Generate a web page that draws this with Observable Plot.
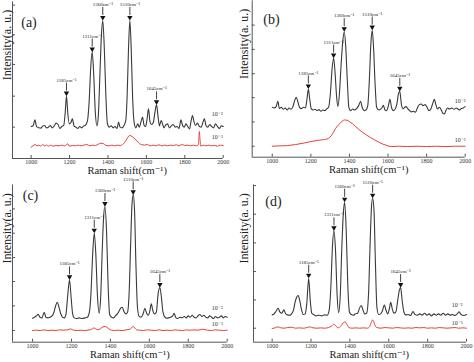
<!DOCTYPE html>
<html><head><meta charset="utf-8">
<script src="https://cdn.jsdelivr.net/npm/d3@7"></script>
<script src="https://cdn.jsdelivr.net/npm/@observablehq/plot@0.6"></script>
<style>
body{margin:0;background:#fff;}
#fig{position:relative;width:474px;height:362px;overflow:hidden;background:#fff;}
#fig svg{position:absolute;overflow:visible;}
</style></head><body><div id="fig"></div>
<script>
const xTicks = [1000,1200,1400,1600,1800,2000];
const peakNames = ["1185cm⁻¹","1311cm⁻¹","1360cm⁻¹","1510cm⁻¹","1645cm⁻¹"];
const panelLetters = ["(a)","(b)","(c)","(d)"];
const seriesNames = ["10⁻²","10⁻³"];
const xTitle = "Raman shift(cm⁻¹)";
const yTitle = "Intensity(a. u.)";

// ---- panel (a)
const blackA = [[1000,96],[1010,98],[1020,116],[1028,96],[1040,92],[1050,91],[1060,97],[1070,99],[1080,92],[1090,94],[1100,99],[1110,92],[1120,98],[1130,106],[1140,102],[1150,90],[1160,96],[1170,100],[1177,135],[1184,187],[1191,135],[1199,104],[1207,108],[1215,119],[1223,98],[1233,94],[1243,90],[1253,96],[1263,92],[1273,97],[1283,100],[1293,112],[1302,170],[1310,270],[1318,319],[1326,250],[1334,140],[1343,98],[1350,130],[1358,250],[1366,370],[1373,414],[1381,330],[1389,190],[1397,105],[1407,94],[1417,98],[1427,92],[1437,96],[1447,90],[1455,109],[1463,94],[1473,92],[1483,98],[1493,115],[1500,190],[1507,330],[1514,414],[1521,330],[1528,190],[1536,110],[1545,92],[1555,104],[1563,94],[1572,110],[1580,124],[1588,100],[1596,96],[1604,120],[1611,149],[1619,110],[1627,102],[1636,108],[1645,140],[1653,161],[1661,125],[1668,98],[1677,114],[1684,104],[1692,92],[1700,100],[1710,104],[1720,92],[1730,98],[1740,102],[1750,94],[1760,96],[1770,90],[1780,116],[1788,100],[1797,94],[1806,104],[1815,96],[1825,89],[1832,110],[1840,129],[1848,110],[1856,99],[1866,106],[1876,96],[1886,94],[1895,110],[1902,119],[1910,100],[1920,94],[1930,102],[1940,96],[1950,92],[1960,104],[1970,96],[1980,90],[1990,98],[2000,96]];
const redA = [[1000,34],[1010,38],[1020,42],[1030,38],[1040,40],[1050,37],[1060,42],[1070,38],[1080,40],[1090,37],[1100,40],[1115,37],[1130,39],[1145,38],[1160,40],[1175,38],[1190,44],[1200,37],[1215,39],[1230,38],[1245,40],[1260,38],[1275,40],[1290,42],[1305,38],[1320,40],[1335,39],[1350,43],[1365,46],[1375,45],[1390,39],[1405,38],[1420,40],[1435,38],[1450,40],[1465,39],[1480,44],[1495,55],[1505,65],[1515,69],[1525,66],[1535,62],[1545,56],[1555,50],[1565,44],[1575,42],[1590,40],[1605,42],[1620,38],[1635,40],[1650,38],[1665,41],[1680,38],[1695,40],[1710,38],[1725,40],[1740,39],[1755,41],[1770,38],[1785,42],[1800,39],[1815,40],[1830,38],[1845,40],[1860,38],[1870,40],[1873,60],[1876,81],[1879,60],[1883,37],[1895,40],[1910,38],[1925,40],[1940,38],[1955,39],[1970,37],[1985,40],[2000,39]];
const peakXA = [1184,1318,1373,1514,1653];
const peakYA = [187,319,414,414,161];
const seriesXA = [1969,1969];
const seriesYA = [134,64];
const yTicksA = [94,187,282,371,460];

// ---- panel (b)
const blackB = [[1000,150],[1010,148],[1020,152],[1029,168],[1037,146],[1047,150],[1057,144],[1067,148],[1077,142],[1087,148],[1097,144],[1107,152],[1116,170],[1124,180],[1132,168],[1141,150],[1152,146],[1162,150],[1172,148],[1180,175],[1187,205],[1194,175],[1202,146],[1212,142],[1222,144],[1232,140],[1242,143],[1252,138],[1262,142],[1272,140],[1282,145],[1292,150],[1301,190],[1310,265],[1318,298],[1326,250],[1333,185],[1340,152],[1348,190],[1356,270],[1365,345],[1373,377],[1381,330],[1389,230],[1397,150],[1407,140],[1417,145],[1427,142],[1437,146],[1448,155],[1458,168],[1466,150],[1476,140],[1486,142],[1495,155],[1503,230],[1511,340],[1518,382],[1525,330],[1533,220],[1541,150],[1551,142],[1561,144],[1570,150],[1576,156],[1584,142],[1593,140],[1602,155],[1610,174],[1618,150],[1628,140],[1638,146],[1646,160],[1654,190],[1661,198],[1669,160],[1678,145],[1686,150],[1694,152],[1702,146],[1712,140],[1722,136],[1732,138],[1742,135],[1752,148],[1762,158],[1772,160],[1782,155],[1792,158],[1802,150],[1812,140],[1822,145],[1831,160],[1840,174],[1848,158],[1856,145],[1866,150],[1876,142],[1884,132],[1892,130],[1900,140],[1908,148],[1918,145],[1930,148],[1942,144],[1955,148],[1968,142],[1980,146],[1990,148],[2000,152]];
const redB = [[1000,33],[1040,34],[1080,35],[1120,38],[1160,42],[1200,47],[1240,51],[1270,53],[1290,56],[1305,64],[1320,78],[1335,92],[1350,101],[1362,108],[1375,112],[1388,111],[1400,107],[1415,101],[1430,93],[1450,83],[1470,74],[1490,66],[1510,59],[1530,52],[1550,46],[1570,40],[1590,36],[1605,33],[1620,32],[1660,33],[1700,32],[1750,33],[1800,32],[1850,33],[1900,32],[1950,33],[2000,33]];
const peakXB = [1187,1318,1373,1518,1661];
const peakYB = [205,298,377,382,198];
const seriesXB = [1974,1974];
const seriesYB = [170,50];
const yTicksB = [33,106,179,251,324,397];

// ---- panel (c)
const blackC = [[1000,77],[1010,80],[1020,84],[1029,89],[1038,80],[1048,78],[1060,95],[1068,80],[1078,78],[1090,80],[1100,84],[1110,95],[1119,115],[1127,125],[1135,112],[1144,92],[1154,80],[1164,78],[1172,90],[1180,140],[1190,192],[1198,140],[1206,90],[1214,78],[1225,76],[1240,78],[1255,76],[1270,78],[1282,80],[1292,95],[1300,150],[1309,270],[1317,332],[1325,270],[1333,150],[1342,92],[1350,140],[1358,280],[1365,380],[1372,412],[1380,340],[1388,180],[1396,88],[1406,80],[1416,78],[1426,84],[1436,90],[1446,100],[1454,108],[1461,110],[1469,98],[1478,90],[1488,95],[1496,150],[1504,300],[1511,420],[1517,447],[1524,400],[1531,240],[1539,110],[1548,82],[1558,80],[1568,90],[1577,107],[1586,92],[1595,86],[1603,100],[1610,120],[1618,100],[1626,90],[1636,95],[1645,150],[1654,169],[1662,140],[1670,95],[1680,80],[1690,77],[1700,78],[1710,80],[1720,84],[1727,92],[1735,80],[1745,76],[1757,80],[1768,78],[1780,82],[1790,78],[1800,84],[1810,80],[1820,86],[1830,80],[1840,78],[1850,84],[1860,88],[1870,82],[1880,86],[1890,80],[1900,78],[1910,84],[1920,80],[1930,76],[1940,82],[1950,78],[1960,80],[1970,84],[1980,78],[1990,82],[2000,80]];
const redC = [[1000,40],[1020,41],[1040,40],[1060,42],[1080,40],[1100,41],[1120,40],[1140,42],[1160,41],[1180,42],[1195,45],[1210,41],[1230,40],[1250,41],[1270,40],[1290,42],[1305,44],[1315,48],[1325,45],[1335,42],[1350,46],[1362,51],[1372,52],[1382,50],[1392,45],[1405,41],[1420,40],[1440,41],[1460,40],[1480,42],[1500,44],[1510,49],[1517,52],[1525,48],[1535,42],[1550,41],[1570,40],[1590,42],[1610,41],[1630,40],[1650,42],[1670,40],[1690,41],[1710,40],[1730,42],[1750,41],[1770,40],[1790,42],[1810,41],[1830,42],[1850,41],[1870,44],[1885,43],[1900,41],[1920,40],[1940,42],[1960,41],[1980,40],[2000,41]];
const peakXC = [1190,1317,1372,1517,1654];
const peakYC = [192,332,412,447,169];
const seriesXC = [1949,1949];
const seriesYC = [107,59];
const yTicksC = [40,114,187,259,332,405];

// ---- panel (d)
const blackD = [[1000,87],[1010,90],[1020,98],[1031,107],[1040,95],[1050,92],[1060,102],[1068,92],[1078,87],[1090,86],[1100,90],[1110,102],[1118,125],[1126,140],[1134,145],[1142,130],[1150,105],[1160,88],[1170,90],[1178,120],[1188,197],[1196,130],[1204,92],[1214,88],[1225,84],[1240,86],[1255,84],[1270,87],[1283,86],[1293,100],[1302,170],[1310,290],[1318,339],[1326,280],[1334,150],[1342,94],[1350,140],[1358,280],[1366,390],[1373,425],[1381,340],[1389,180],[1398,95],[1408,88],[1418,86],[1428,90],[1440,92],[1450,108],[1459,115],[1467,102],[1476,90],[1486,92],[1496,150],[1504,300],[1511,410],[1517,437],[1524,400],[1531,250],[1539,110],[1548,88],[1558,90],[1568,100],[1577,117],[1586,100],[1595,90],[1603,105],[1610,125],[1618,105],[1626,92],[1636,95],[1646,130],[1654,160],[1661,169],[1669,130],[1678,95],[1688,87],[1700,88],[1712,85],[1725,97],[1735,88],[1748,86],[1760,90],[1772,86],[1784,92],[1796,86],[1808,90],[1820,84],[1832,90],[1844,86],[1856,90],[1868,86],[1880,92],[1892,86],[1904,90],[1916,86],[1928,88],[1940,85],[1952,90],[1962,96],[1972,88],[1986,85],[2000,88]];
const redD = [[1000,46],[1015,48],[1030,51],[1045,48],[1060,47],[1080,49],[1100,50],[1120,47],[1140,48],[1160,47],[1180,49],[1195,51],[1210,48],[1230,47],[1250,48],[1270,47],[1290,49],[1305,53],[1318,59],[1330,52],[1342,48],[1355,55],[1366,63],[1375,66],[1385,58],[1395,49],[1410,47],[1430,48],[1450,47],[1470,48],[1490,47],[1502,52],[1510,64],[1517,72],[1524,65],[1532,52],[1545,48],[1560,47],[1580,49],[1600,48],[1620,47],[1640,49],[1660,48],[1680,47],[1700,48],[1720,47],[1740,49],[1760,48],[1780,49],[1800,47],[1820,48],[1840,47],[1860,49],[1880,48],[1900,47],[1920,48],[1940,49],[1960,47],[1980,48],[2000,47]];
const peakXD = [1188,1318,1373,1517,1661];
const peakYD = [197,339,425,437,169];
const seriesXD = [1952,1952];
const seriesYD = [117,62];
const yTicksD = [47,132,217,303,389,475];

const serif = "'Times New Roman','Liberation Serif','DejaVu Serif',serif";
const W = 237, H = 181;

const panels = [
  {letter: panelLetters[0], black: blackA, red: redA, px: peakXA, py: peakYA, sx: seriesXA, sy: seriesYA, yt: yTicksA,
   left: 0, top: 0, ml: 12, mr: 14.3, mt: 1.3, mb: 23, xd: [903, 2000], yd: [0, 470], lx: 28.5, ly: 22},
  {letter: panelLetters[1], black: blackB, red: redB, px: peakXB, py: peakYB, sx: seriesXB, sy: seriesYB, yt: yTicksB,
   left: 237, top: 0, ml: 14.7, mr: 9.3, mt: 0.3, mb: 24.3, xd: [896, 2000], yd: [0, 470], lx: 34, ly: 19},
  {letter: panelLetters[2], black: blackC, red: redC, px: peakXC, py: peakYC, sx: seriesXC, sy: seriesYC, yt: yTicksC,
   left: 0, top: 181, ml: 12, mr: 10.3, mt: 3.4, mb: 20.3, xd: [897, 2000], yd: [5, 477], lx: 30, ly: 14},
  {letter: panelLetters[3], black: blackD, red: redD, px: peakXD, py: peakYD, sx: seriesXD, sy: seriesYD, yt: yTicksD,
   left: 237, top: 181, ml: 16, mr: 8, mt: 3.4, mb: 20.3, xd: [904, 2000], yd: [5, 477], lx: 36, ly: 20}
];

const fig = document.getElementById("fig");
for (const p of panels) {
  const k = (H - p.mt - p.mb) / (p.yd[1] - p.yd[0]); // px per unit
  const black = p.black.map(([x, y]) => ({x, y}));
  const red = p.red.map(([x, y]) => ({x, y}));
  const peaks = p.px.map((x, i) => ({x, y: p.py[i], name: peakNames[i]}));
  const series = p.sx.map((x, i) => ({x, y: p.sy[i], name: seriesNames[i]}));
  const svg = Plot.plot({
    width: W, height: H,
    marginLeft: p.ml, marginRight: p.mr, marginTop: p.mt, marginBottom: p.mb,
    x: {domain: p.xd},
    y: {domain: p.yd},
    style: {fontFamily: serif, background: "transparent", overflow: "visible", color: "#333"},
    marks: [
      Plot.axisX({ticks: xTicks, tickSize: 3, dy: -3, text: null, label: null, stroke: "#555"}),
      Plot.axisX({ticks: xTicks, tickSize: 0, tickPadding: 1.5, fontSize: 6, fill: "#333", label: null, tickFormat: d => String(d)}),
      Plot.axisY({ticks: p.yt, tickSize: 3, dx: 3, text: null, label: null, stroke: "#555"}),
      Plot.ruleX([p.xd[0]], {stroke: "#555", strokeWidth: 1}),
      Plot.ruleY([p.yd[0]], {stroke: "#555", strokeWidth: 1}),
      Plot.line(red, {x: "x", y: "y", stroke: "#e5403b", strokeWidth: 1, curve: "monotone-x"}),
      Plot.line(black, {x: "x", y: "y", stroke: "#3a3a3a", strokeWidth: 1.1, curve: "monotone-x"}),
      Plot.ruleX(peaks, {x: "x", y1: d => d.y + 13 / k, y2: d => d.y + 5 / k, stroke: "#111", strokeWidth: 0.8}),
      Plot.dot(peaks, {x: "x", y: d => d.y + 3 / k, symbol: "triangle", r: 2, fill: "#111", stroke: "none", rotate: 180}),
      Plot.text(peaks, {x: "x", y: "y", text: "name", dy: -16, fontSize: 5, fill: "#222"}),
      Plot.text(series, {x: "x", y: "y", text: "name", fontSize: 6, fill: "#333"}),
      Plot.text([p.letter], {frameAnchor: "top-left", dx: p.lx - p.ml, dy: p.ly - p.mt, fontSize: 14, fill: "#222", textAnchor: "middle", lineAnchor: "middle"}),
      Plot.text([yTitle], {frameAnchor: "left", rotate: -90, dx: 6.5 - p.ml, fontSize: 12, fill: "#222", lineAnchor: "middle"}),
      Plot.text([xTitle], {x: 1500, frameAnchor: "bottom", dy: 12.5, fontSize: 10.5, fill: "#222", lineAnchor: "middle"})
    ]
  });
  svg.style.left = p.left + "px";
  svg.style.top = p.top + "px";
  fig.appendChild(svg);
}
</script>
</body></html>
